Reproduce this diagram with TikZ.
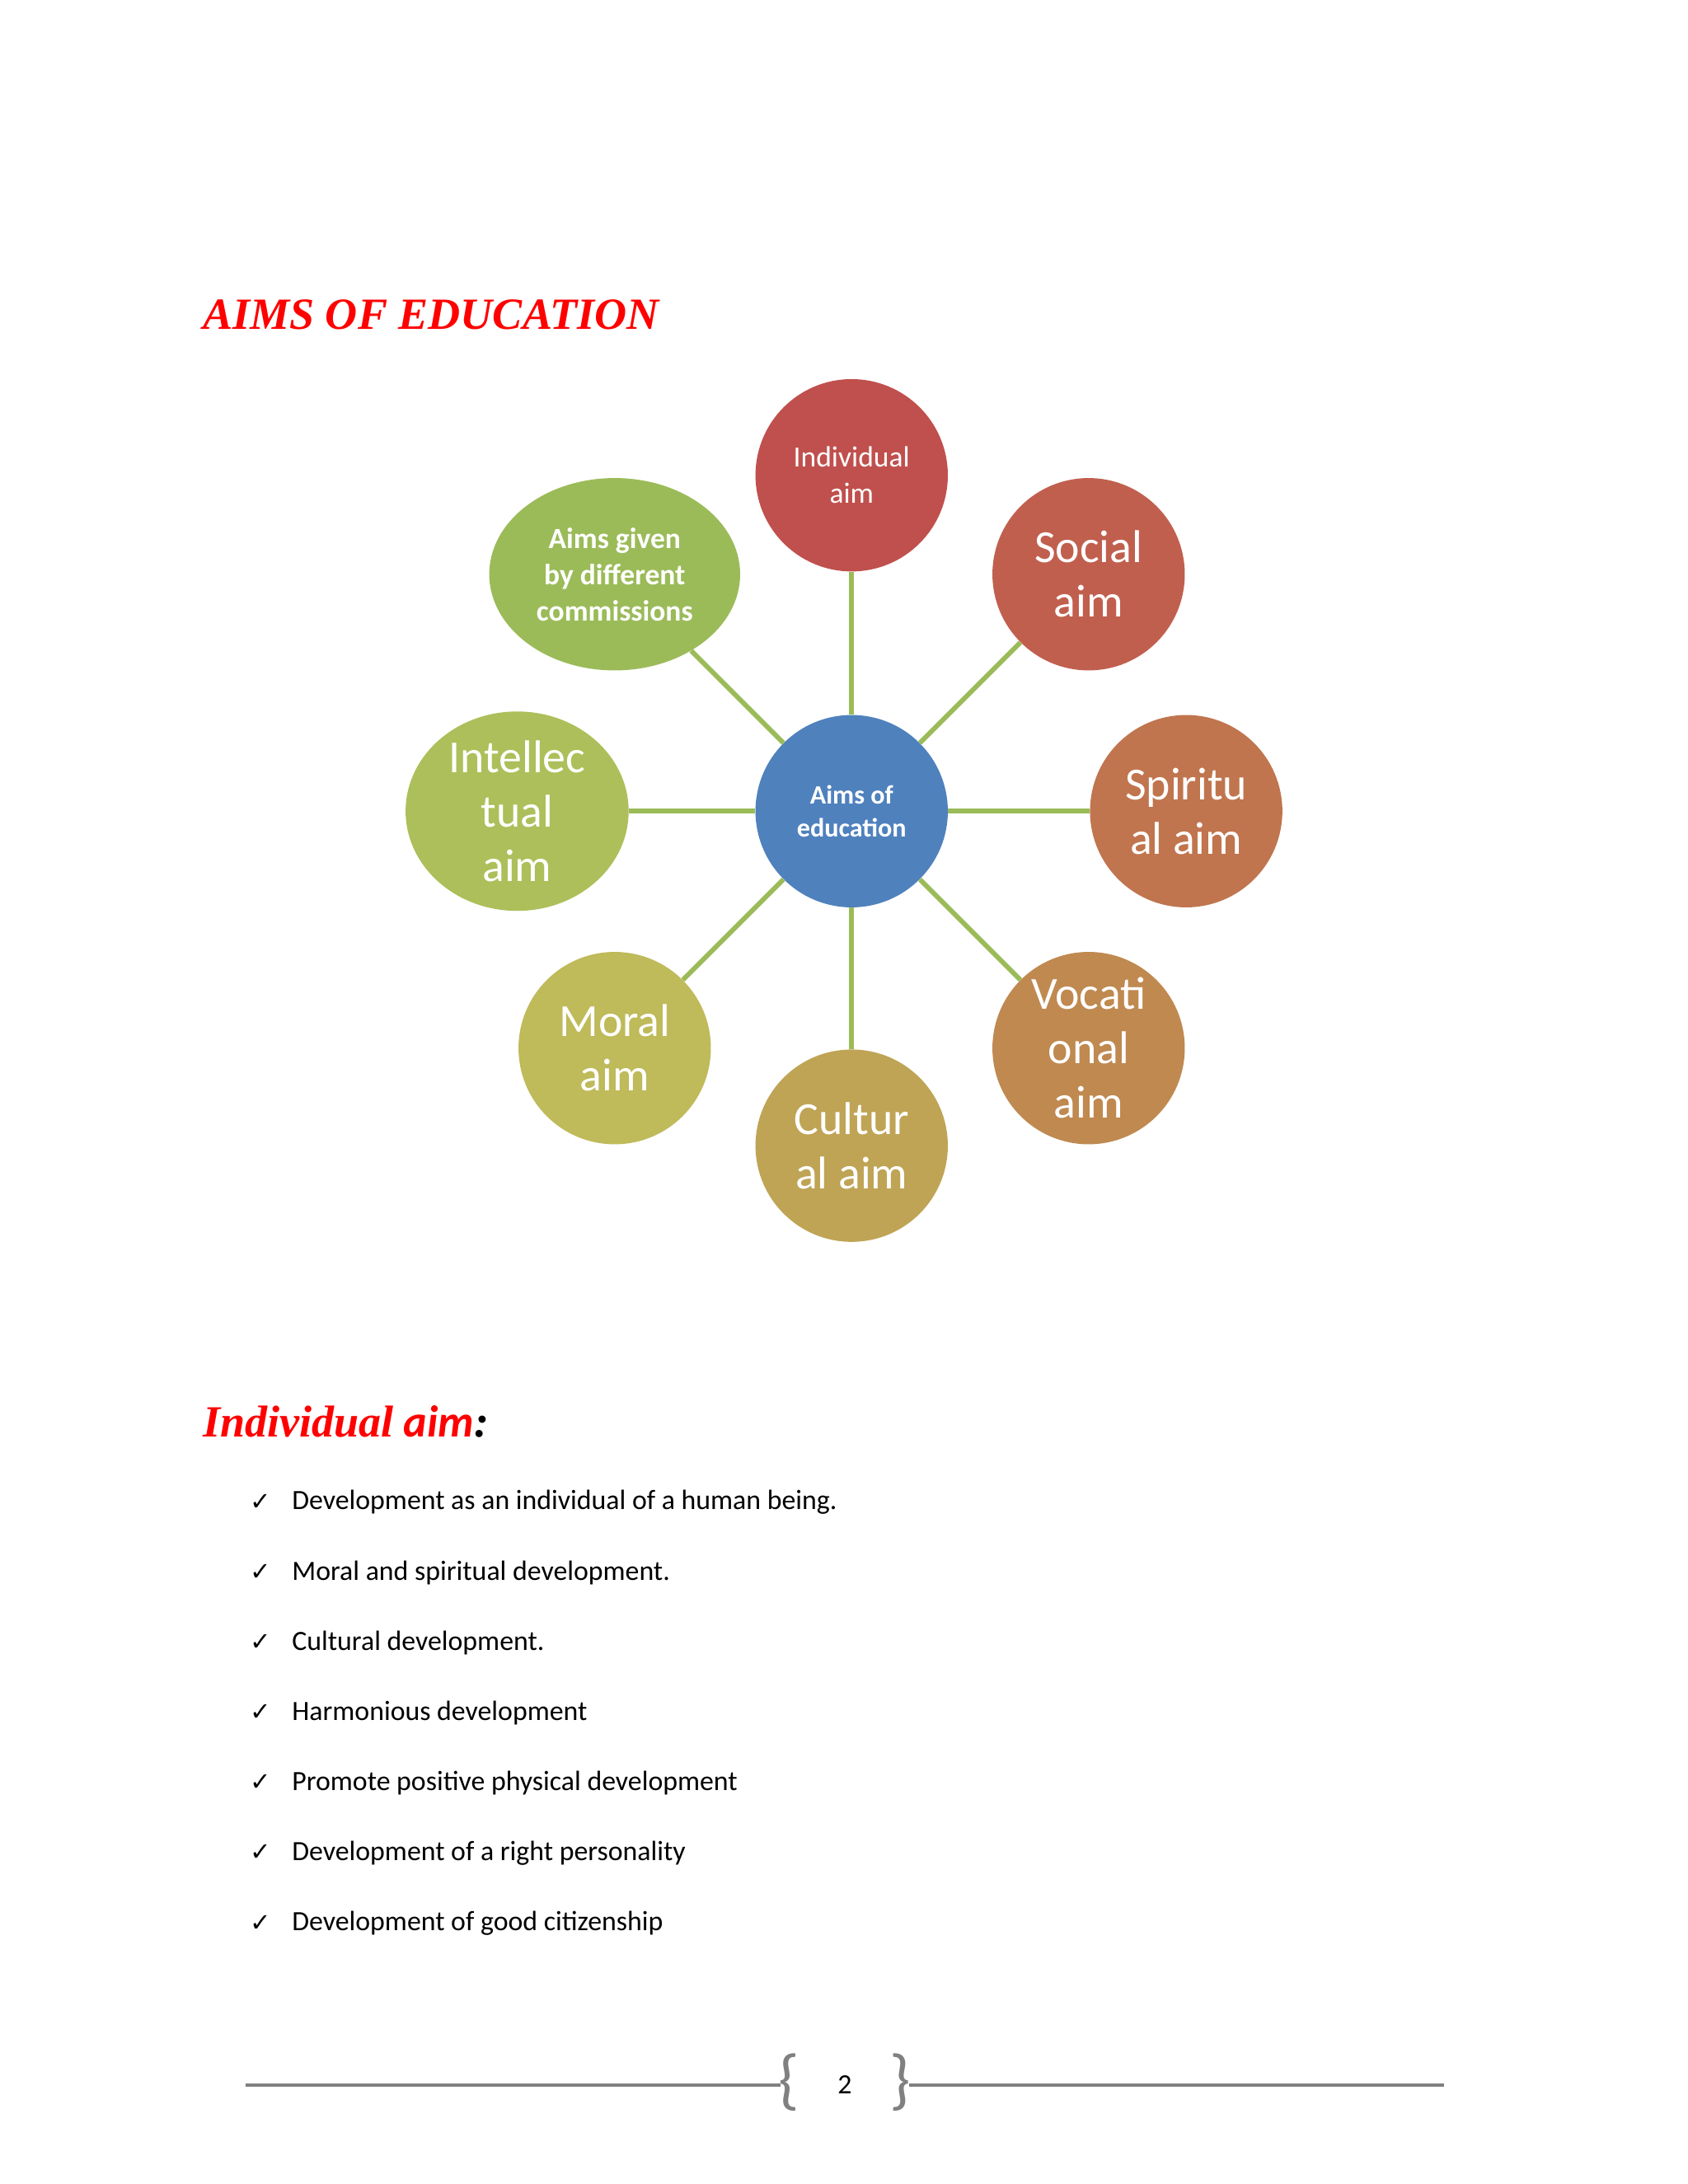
\documentclass[tikz,border=0pt]{standalone}
\usepackage{fontspec}
\setmainfont{Carlito}
\newfontfamily\serifit{Liberation Serif}
\usetikzlibrary{shapes.geometric}
\definecolor{cgreen}{HTML}{9BBB59}
\tikzset{bub/.style={circle,minimum size=138pt,inner sep=0pt,align=center,text=white},
 ell/.style={ellipse,inner sep=0pt,align=center,text=white},
 spoke/.style={draw=cgreen,line width=3.5pt},
 item/.style={anchor=west,font=\fontsize{20}{24}\selectfont}}
\begin{document}
\begin{tikzpicture}[x=1pt,y=-1pt]
\useasboundingbox[fill=white] (0,0) rectangle (1211,1567);
\node[anchor=west,text=red,font=\serifit\bfseries\itshape\fontsize{32}{36}\selectfont] (t) at (142,226) {AIMS OF EDUCATION};
\node[bub,fill={rgb,255:red,79;green,129;blue,189},font=\bfseries\fontsize{19}{24}\selectfont] (c) at (611,582) {Aims of\\education};
\node[bub,fill={rgb,255:red,192;green,80;blue,77},font=\fontsize{21}{26}\selectfont] (i) at (611,341) {Individual\\aim};
\node[bub,fill={rgb,255:red,193;green,95;blue,78},font=\fontsize{33}{39}\selectfont] (s) at (781,412) {Social\\aim};
\node[bub,fill={rgb,255:red,192;green,117;blue,78},font=\fontsize{33}{39}\selectfont] (sp) at (851,582) {Spiritu\\al aim};
\node[bub,fill={rgb,255:red,191;green,137;blue,80},font=\fontsize{33}{39}\selectfont] (v) at (781,752) {Vocati\\onal\\aim};
\node[bub,fill={rgb,255:red,191;green,164;blue,85},font=\fontsize{33}{39}\selectfont] (cu) at (611,822) {Cultur\\al aim};
\node[bub,fill={rgb,255:red,191;green,186;blue,90},font=\fontsize{33}{39}\selectfont] (m) at (441,752) {Moral\\aim};
\node[ell,minimum width=160pt,minimum height=138pt,fill={rgb,255:red,173;green,191;blue,90},font=\fontsize{33}{39}\selectfont] (in) at (371,582) {Intellec\\tual\\aim};
\node[ell,minimum width=180pt,minimum height=138pt,fill=cgreen,font=\bfseries\fontsize{21}{26}\selectfont] (a) at (441,412) {Aims given\\by different\\commissions};
\foreach \n in {i,s,sp,v,cu,m,in,a}{\draw[spoke] (c) -- (\n);}
\node[anchor=west,font=\bfseries\itshape\fontsize{32}{36}\selectfont,text=red] (h) at (142,1020) {{\serifit Individual} aim{\serifit\color{black}:}};
\foreach \k/\txt in {0/Development as an individual of a human being.,1/Moral and spiritual development.,2/Cultural development.,3/Harmonious development,4/Promote positive physical development,5/Development of a right personality,6/Development of good citizenship}{
 \node[item] (ck\k) at (176,1078+50.3*\k) {{\fontspec{DejaVu Sans}\fontsize{18}{20}\selectfont ✓}};
 \node[item] (it\k) at (206,1078+50.3*\k) {\txt};}
\coordinate (l1) at (176,1496); \coordinate (l2) at (560,1496);
\coordinate (r1) at (652,1496); \coordinate (r2) at (1036,1496);
\draw[gray,line width=2pt] (l1)--(l2) (r1)--(r2);
\node[text=gray,font=\fontsize{48}{48}\selectfont] (lb) at (566,1494) {\{};
\node[text=gray,font=\fontsize{48}{48}\selectfont] (rb) at (646,1494) {\}};
\node[font=\fontsize{20}{24}\selectfont] (pg) at (606,1496) {2};
\end{tikzpicture}
\end{document}
